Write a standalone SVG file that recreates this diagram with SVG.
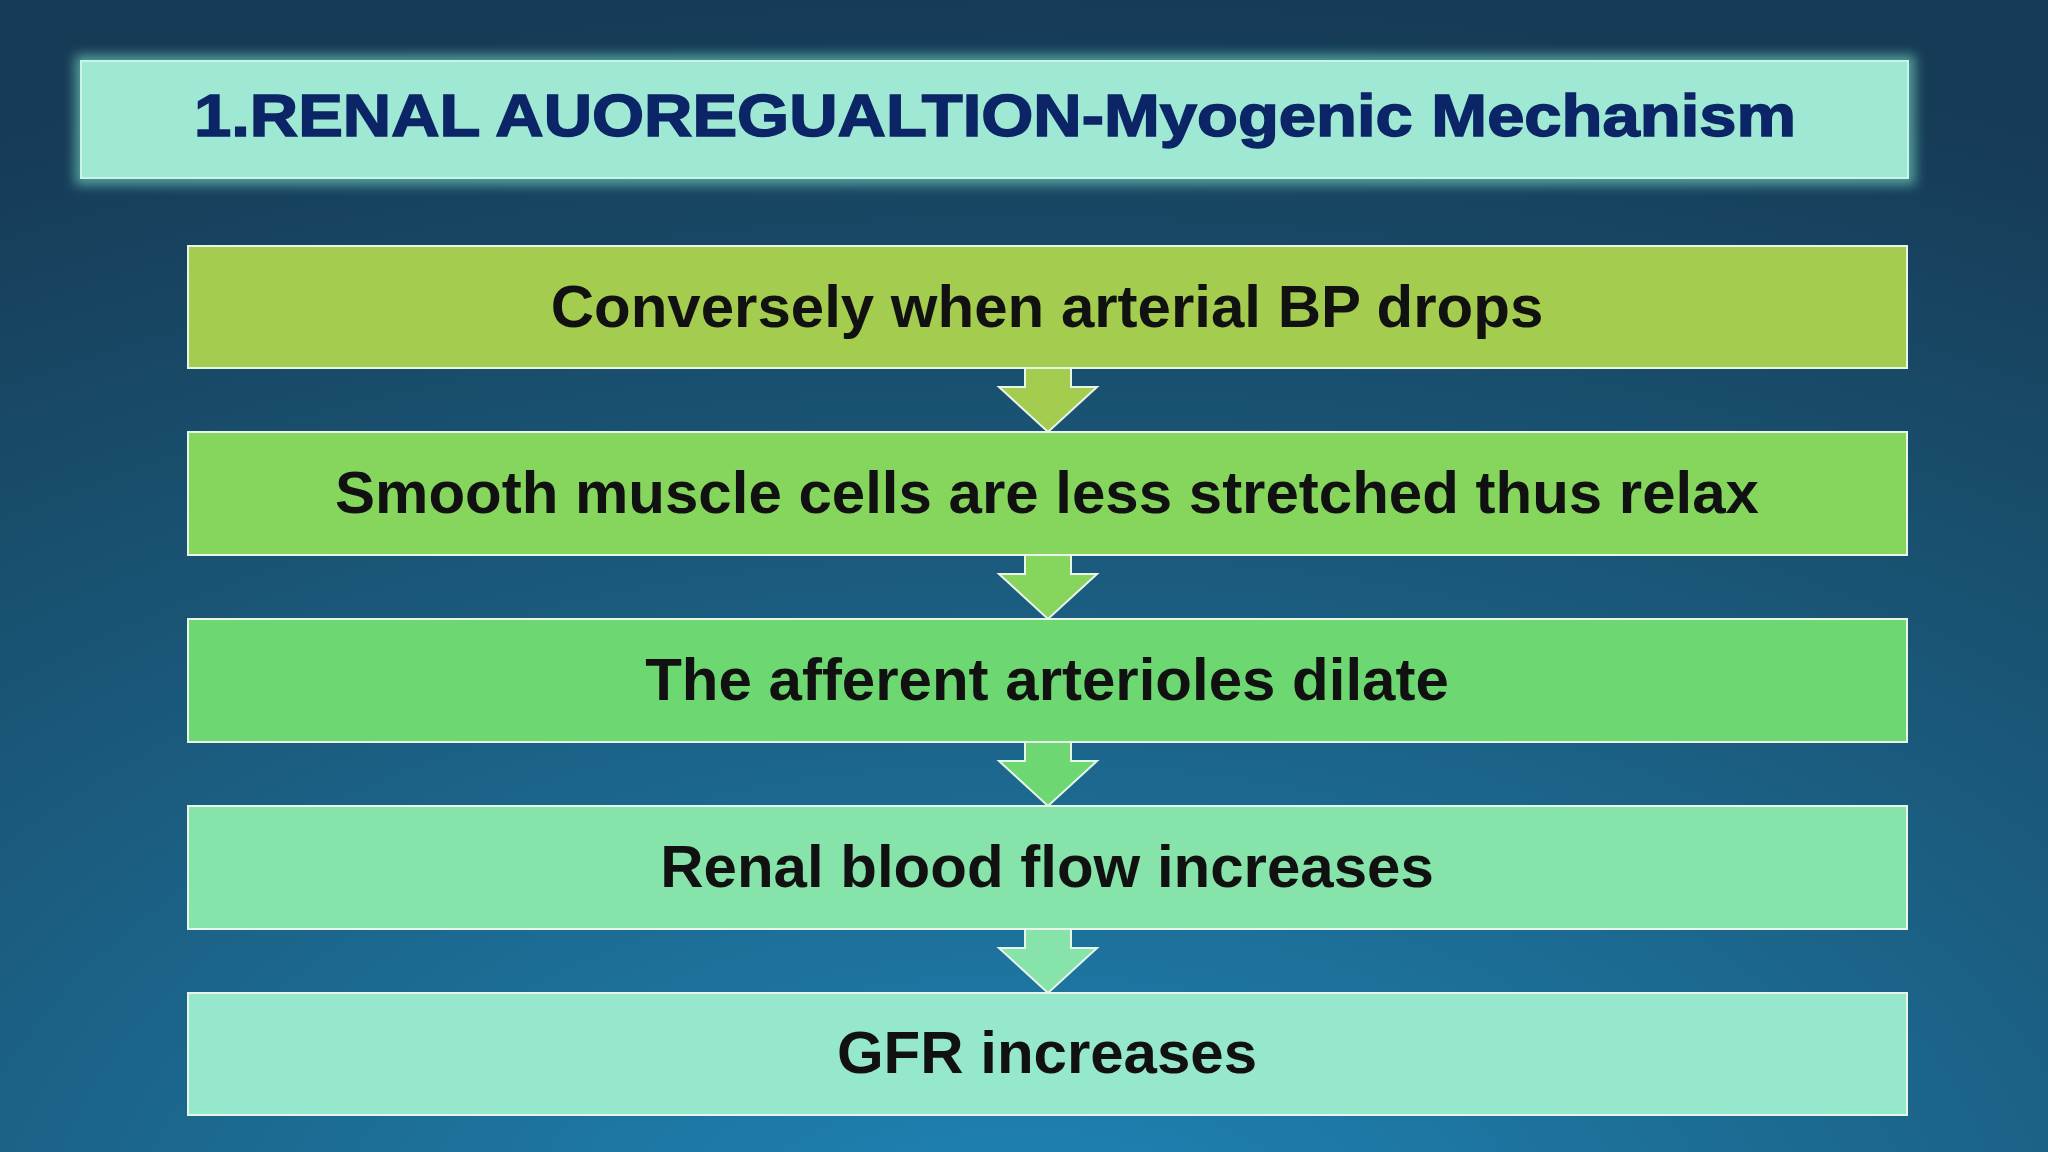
<svg xmlns="http://www.w3.org/2000/svg" width="2048" height="1152" viewBox="0 0 2048 1152">
<defs>
<radialGradient id="bg" cx="0.5" cy="1.1" r="1.1">
<stop offset="0" stop-color="#1f86b8"/>
<stop offset="0.6" stop-color="#1a5778"/>
<stop offset="1" stop-color="#163b56"/>
</radialGradient>
<filter id="glow" x="-5%" y="-30%" width="110%" height="160%"><feGaussianBlur stdDeviation="6"/></filter>
</defs>
<style>
.box{stroke:#e8f5e8;stroke-width:2}
.t{font-family:"Liberation Sans",Arial,sans-serif;font-weight:bold;font-size:60px;fill:#111;text-anchor:middle}
.arr{stroke:#e8f5e8;stroke-width:2}
</style>
<rect width="2048" height="1152" fill="url(#bg)"/>
<g id="title">
<rect x="75" y="55" width="1840" height="130" fill="#7fe0c8" opacity="0.6" filter="url(#glow)"/>
<rect x="81" y="61" width="1827" height="117" fill="#9ee8d4" stroke="#c8f5ea" stroke-width="2"/>
<text x="995" y="136" font-family="'Liberation Sans',Arial,sans-serif" font-weight="bold" font-size="60" fill="#0c2566" stroke="#0c2566" stroke-width="1.5" text-anchor="middle" textLength="1602" lengthAdjust="spacingAndGlyphs">1.RENAL AUOREGUALTION-Myogenic Mechanism</text>
</g>
<g id="connectors">
<path class="arr" fill="#a4cc4e" d="M1025 368V387H999L1048 432L1097 387H1071V368"/>
<path class="arr" fill="#86d65e" d="M1025 555V574H999L1048 619L1097 574H1071V555"/>
<path class="arr" fill="#6dd872" d="M1025 742V761H999L1048 806L1097 761H1071V742"/>
<path class="arr" fill="#86e3aa" d="M1025 929V948H999L1048 993L1097 948H1071V929"/>
</g>
<g id="n1"><rect class="box" x="188" y="246" width="1719" height="122" fill="#a4cc4e"/><text class="t" x="1047" y="327">Conversely when arterial BP drops</text></g>
<g id="n2"><rect class="box" x="188" y="432" width="1719" height="123" fill="#86d65e"/><text class="t" x="1047" y="513">Smooth muscle cells are less stretched thus relax</text></g>
<g id="n3"><rect class="box" x="188" y="619" width="1719" height="123" fill="#6dd872"/><text class="t" x="1047" y="700">The afferent arterioles dilate</text></g>
<g id="n4"><rect class="box" x="188" y="806" width="1719" height="123" fill="#86e3aa"/><text class="t" x="1047" y="887">Renal blood flow increases</text></g>
<g id="n5"><rect class="box" x="188" y="993" width="1719" height="122" fill="#96e8cc"/><text class="t" x="1047" y="1073">GFR increases</text></g>
</svg>
